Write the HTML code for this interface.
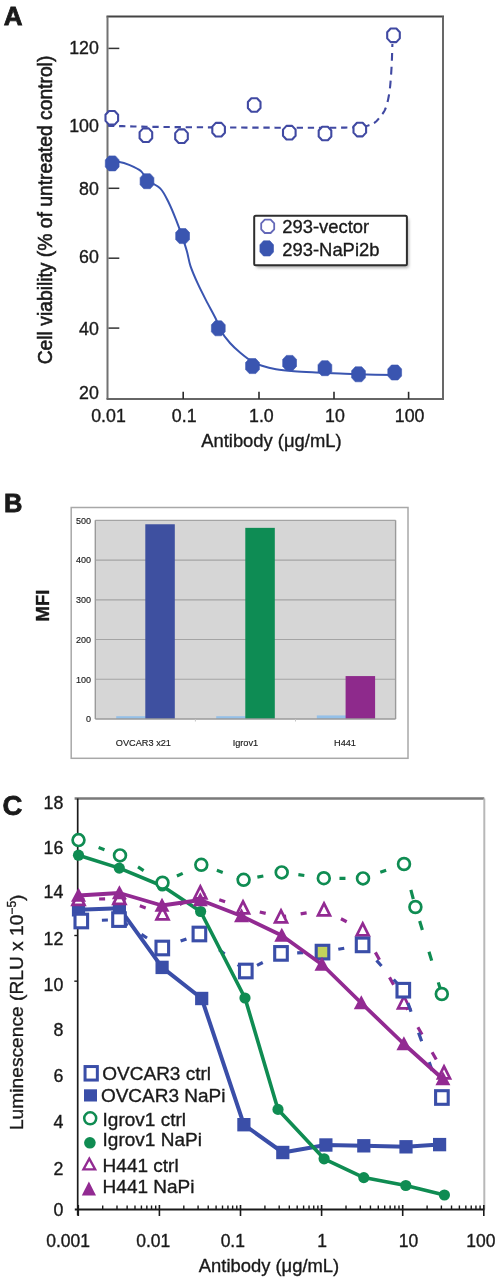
<!DOCTYPE html>
<html><head><meta charset="utf-8"><title>Figure</title>
<style>
html,body{margin:0;padding:0;background:#fff;width:498px;height:1280px;overflow:hidden}
svg{display:block;position:absolute;left:0;top:0}
text{font-family:"Liberation Sans", Arial, sans-serif;stroke:#1a1a1a;stroke-width:0.35px}
text.s{stroke-width:0.15px}
text.L{stroke-width:0.8px}
</style></head><body>
<svg width="498" height="1280" viewBox="0 0 498 1280">
<text class="L" x="3.7" y="25.2" font-size="26" font-weight="bold" fill="#1a1a1a">A</text>
<line x1="106.5" y1="16.5" x2="444" y2="16.5" stroke="#444" stroke-width="1.9"/>
<line x1="443" y1="16.5" x2="443" y2="399" stroke="#686868" stroke-width="2"/>
<line x1="107.5" y1="16.5" x2="107.5" y2="399" stroke="#727272" stroke-width="2"/>
<line x1="106.5" y1="399" x2="444" y2="399" stroke="#666" stroke-width="2"/>
<line x1="108.5" y1="48.4" x2="119.3" y2="48.4" stroke="#333" stroke-width="1.5"/>
<line x1="108.5" y1="188.3" x2="119.3" y2="188.3" stroke="#333" stroke-width="1.5"/>
<line x1="108.5" y1="258.2" x2="119.3" y2="258.2" stroke="#333" stroke-width="1.5"/>
<line x1="108.5" y1="328.1" x2="119.3" y2="328.1" stroke="#333" stroke-width="1.5"/>
<text x="98.8" y="54.1" font-size="17.8" text-anchor="end" fill="#1a1a1a">120</text>
<text x="98.8" y="131.5" font-size="17.8" text-anchor="end" fill="#1a1a1a">100</text>
<text x="98.8" y="194.7" font-size="17.8" text-anchor="end" fill="#1a1a1a">80</text>
<text x="98.8" y="262.7" font-size="17.8" text-anchor="end" fill="#1a1a1a">60</text>
<text x="98.8" y="334.8" font-size="17.8" text-anchor="end" fill="#1a1a1a">40</text>
<text x="98.8" y="398.5" font-size="17.8" text-anchor="end" fill="#1a1a1a">20</text>
<text x="108.5" y="421.8" font-size="17.8" text-anchor="middle" fill="#1a1a1a">0.01</text>
<line x1="183.2" y1="391.8" x2="183.2" y2="399" stroke="#2a2a2a" stroke-width="1.6"/>
<text x="184.2" y="421.8" font-size="17.8" text-anchor="middle" fill="#1a1a1a">0.1</text>
<line x1="259" y1="391.8" x2="259" y2="399" stroke="#2a2a2a" stroke-width="1.6"/>
<text x="261.4" y="421.8" font-size="17.8" text-anchor="middle" fill="#1a1a1a">1.0</text>
<line x1="334" y1="391.8" x2="334" y2="399" stroke="#2a2a2a" stroke-width="1.6"/>
<text x="335" y="421.8" font-size="17.8" text-anchor="middle" fill="#1a1a1a">10</text>
<line x1="408.6" y1="391.8" x2="408.6" y2="399" stroke="#2a2a2a" stroke-width="1.6"/>
<text x="409.6" y="421.8" font-size="17.8" text-anchor="middle" fill="#1a1a1a">100</text>
<text x="271.4" y="447.3" font-size="18.4" text-anchor="middle" fill="#1a1a1a">Antibody (μg/mL)</text>
<text transform="translate(52.4,210) rotate(-90)" x="0" y="0" font-size="19.3" text-anchor="middle" fill="#1a1a1a" style="stroke-width:0.55px">Cell viability (% of untreated control)</text>
<path d="M108,125.8 L110,125.85 L112.48,125.91 L114.3,125.96 M119.1,126.09 L122.12,126.17 L125.4,126.26 M130.2,126.38 L133.85,126.47 L136.49,126.53 M141.29,126.63 L142.05,126.65 L146.09,126.73 L147.59,126.76 M152.39,126.84 L153.89,126.86 L157.87,126.91 L158.69,126.92 M163.49,126.98 L166.07,127.01 L169.79,127.05 M174.59,127.09 L178.76,127.13 L180.89,127.15 M185.69,127.19 L187.31,127.2 L191.57,127.23 L191.99,127.24 M196.79,127.27 L200,127.3 L203.09,127.32 M207.89,127.36 L208.33,127.36 L212.5,127.39 L214.19,127.41 M218.99,127.44 L220.83,127.45 L225,127.48 L225.29,127.48 M230.09,127.5 L233.33,127.52 L236.39,127.54 M241.19,127.56 L241.67,127.56 L245.83,127.58 L247.49,127.59 M252.29,127.61 L254.18,127.62 L258.39,127.63 L258.59,127.63 M263.39,127.65 L266.85,127.66 L269.69,127.66 M274.49,127.67 L275.31,127.68 L279.52,127.68 L280.79,127.68 M285.59,127.69 L287.85,127.69 L291.89,127.7 M296.69,127.7 L300,127.7 L302.99,127.7 M307.79,127.7 L308.11,127.7 L312.26,127.71 L314.09,127.71 M318.89,127.71 L320.52,127.71 L324.56,127.71 L325.19,127.71 M329.99,127.7 L332.26,127.69 L335.84,127.68 L336.29,127.68 M341.09,127.64 L342.25,127.63 L345,127.6 L347.39,127.57 M352.19,127.49 L352.96,127.47 L354.37,127.44 L355.62,127.39 L356.76,127.34 L357.81,127.27 L358.48,127.21 M363.26,126.61 L364.23,126.44 L365.28,126.23 L366.28,126.01 L367.24,125.78 L368.16,125.52 L369.04,125.25 L369.44,125.12 M373.94,123.06 L374.35,122.8 L374.95,122.37 L375.52,121.92 L376.05,121.46 L376.56,120.97 L377.05,120.46 L377.54,119.93 L378.02,119.38 L378.5,118.81 L378.92,118.3 M382.35,114.1 L382.66,113.69 L383.17,112.95 L383.67,112.17 L384.16,111.35 L384.63,110.46 L385.08,109.52 L385.5,108.5 L385.84,107.59 M387.53,101.98 L387.69,101.34 L388.01,99.97 L388.31,98.55 L388.6,97.07 L388.88,95.54 L389.08,94.35 M389.9,88.44 L390.08,86.83 L390.28,84.86 L390.46,82.82 L390.64,80.75 L390.65,80.62 M391.09,74.65 L391.1,74.42 L391.24,72.31 L391.37,70.24 L391.5,68.2 L391.58,66.8 M391.86,60.81 L391.92,59.24 L392.01,56.9 L392.08,54.59 L392.13,52.94 M392.31,46.94 L392.32,46.63 L392.36,45.17 L392.4,44" fill="none" stroke="#4049a2" stroke-width="2.1"/>
<path d="M111.7,162.5 C113,162.42 116.6,161.6 119.5,162 C122.4,162.4 125.5,163.37 129.1,164.9 C132.7,166.43 138.08,168.63 141.1,171.2 C144.12,173.77 143.98,177.4 147.2,180.3 C150.42,183.2 156.78,184.82 160.4,188.6 C164.02,192.38 166.28,197.78 168.9,203 C171.52,208.22 173.9,214.35 176.1,219.9 C178.3,225.45 180.3,231.08 182.1,236.3 C183.9,241.52 185.5,246.23 186.9,251.2 C188.3,256.17 188.68,260.68 190.5,266.1 C192.32,271.52 195.18,277.95 197.8,283.7 C200.42,289.45 203.2,294.77 206.2,300.6 C209.2,306.43 213.33,313.63 215.8,318.7 C218.27,323.77 218.63,326.95 221,331 C223.37,335.05 226.83,339.42 230,343 C233.17,346.58 236.33,349.42 240,352.5 C243.67,355.58 248.33,359.28 252,361.5 C255.67,363.72 258,364.52 262,365.8 C266,367.08 270.67,368.3 276,369.2 C281.33,370.1 287.33,370.65 294,371.2 C300.67,371.75 308.33,372.1 316,372.5 C323.67,372.9 333,373.3 340,373.6 C347,373.9 348.83,374.07 358,374.3 C367.17,374.53 388.83,374.88 395,375" fill="none" stroke="#3a55b0" stroke-width="2"/>
<polygon points="114.63,111 118.1,114.74 118.1,120.86 114.63,124.6 108.97,124.6 105.5,120.86 105.5,114.74 108.97,111" fill="#fff" stroke="#4049a2" stroke-width="2.1" stroke-linejoin="round"/>
<polygon points="148.74,128.4 152.2,132.14 152.2,138.26 148.74,142 143.06,142 139.6,138.26 139.6,132.14 143.06,128.4" fill="#fff" stroke="#4049a2" stroke-width="2.1" stroke-linejoin="round"/>
<polygon points="184.34,129.4 187.8,133.14 187.8,139.26 184.34,143 178.66,143 175.2,139.26 175.2,133.14 178.66,129.4" fill="#fff" stroke="#4049a2" stroke-width="2.1" stroke-linejoin="round"/>
<polygon points="221.44,122.9 224.9,126.64 224.9,132.76 221.44,136.5 215.76,136.5 212.3,132.76 212.3,126.64 215.76,122.9" fill="#fff" stroke="#4049a2" stroke-width="2.1" stroke-linejoin="round"/>
<polygon points="257.03,98.2 260.5,101.94 260.5,108.06 257.03,111.8 251.36,111.8 247.9,108.06 247.9,101.94 251.36,98.2" fill="#fff" stroke="#4049a2" stroke-width="2.1" stroke-linejoin="round"/>
<polygon points="292.13,125.9 295.6,129.64 295.6,135.76 292.13,139.5 286.47,139.5 283,135.76 283,129.64 286.47,125.9" fill="#fff" stroke="#4049a2" stroke-width="2.1" stroke-linejoin="round"/>
<polygon points="327.83,126.7 331.3,130.44 331.3,136.56 327.83,140.3 322.17,140.3 318.7,136.56 318.7,130.44 322.17,126.7" fill="#fff" stroke="#4049a2" stroke-width="2.1" stroke-linejoin="round"/>
<polygon points="362.63,122.8 366.1,126.54 366.1,132.66 362.63,136.4 356.97,136.4 353.5,132.66 353.5,126.54 356.97,122.8" fill="#fff" stroke="#4049a2" stroke-width="2.1" stroke-linejoin="round"/>
<polygon points="396.33,28.5 399.8,32.24 399.8,38.36 396.33,42.1 390.67,42.1 387.2,38.36 387.2,32.24 390.67,28.5" fill="#fff" stroke="#4049a2" stroke-width="2.1" stroke-linejoin="round"/>
<polygon points="115.44,155.9 119.1,159.88 119.1,166.93 115.44,170.9 108.96,170.9 105.3,166.93 105.3,159.88 108.96,155.9" fill="#3a55b0" stroke="#3a55b0" stroke-width="0.6" stroke-linejoin="round"/>
<polygon points="150.24,173.7 153.9,177.67 153.9,184.72 150.24,188.7 143.76,188.7 140.1,184.72 140.1,177.67 143.76,173.7" fill="#3a55b0" stroke="#3a55b0" stroke-width="0.6" stroke-linejoin="round"/>
<polygon points="185.84,228.6 189.5,232.57 189.5,239.62 185.84,243.6 179.36,243.6 175.7,239.62 175.7,232.57 179.36,228.6" fill="#3a55b0" stroke="#3a55b0" stroke-width="0.6" stroke-linejoin="round"/>
<polygon points="221.54,320.8 225.2,324.78 225.2,331.82 221.54,335.8 215.06,335.8 211.4,331.82 211.4,324.78 215.06,320.8" fill="#3a55b0" stroke="#3a55b0" stroke-width="0.6" stroke-linejoin="round"/>
<polygon points="255.74,358.6 259.4,362.58 259.4,369.62 255.74,373.6 249.26,373.6 245.6,369.62 245.6,362.58 249.26,358.6" fill="#3a55b0" stroke="#3a55b0" stroke-width="0.6" stroke-linejoin="round"/>
<polygon points="292.84,355.4 296.5,359.38 296.5,366.42 292.84,370.4 286.36,370.4 282.7,366.42 282.7,359.38 286.36,355.4" fill="#3a55b0" stroke="#3a55b0" stroke-width="0.6" stroke-linejoin="round"/>
<polygon points="328.14,360.7 331.8,364.68 331.8,371.72 328.14,375.7 321.66,375.7 318,371.72 318,364.68 321.66,360.7" fill="#3a55b0" stroke="#3a55b0" stroke-width="0.6" stroke-linejoin="round"/>
<polygon points="361.74,366.8 365.4,370.78 365.4,377.82 361.74,381.8 355.26,381.8 351.6,377.82 351.6,370.78 355.26,366.8" fill="#3a55b0" stroke="#3a55b0" stroke-width="0.6" stroke-linejoin="round"/>
<polygon points="397.94,365 401.6,368.98 401.6,376.02 397.94,380 391.46,380 387.8,376.02 387.8,368.98 391.46,365" fill="#3a55b0" stroke="#3a55b0" stroke-width="0.6" stroke-linejoin="round"/>
<defs><filter id="sh" x="-10%" y="-20%" width="120%" height="150%"><feGaussianBlur stdDeviation="1.6"/></filter></defs>
<rect x="256.2" y="218.6" width="152.7" height="49.4" rx="2" fill="#9a9a9a" opacity="0.75" filter="url(#sh)"/>
<rect x="254.2" y="215.8" width="152.7" height="49.4" rx="1.5" fill="#fff" stroke="#2e2e2e" stroke-width="2"/>
<polygon points="270.62,219.6 274.2,223.29 274.2,229.31 270.62,233 264.77,233 261.2,229.31 261.2,223.29 264.77,219.6" fill="#fff" stroke="#6468b8" stroke-width="1.8" stroke-linejoin="round"/>
<polygon points="269.9,240.8 273.5,244.83 273.5,251.97 269.9,256 263.5,256 259.9,251.97 259.9,244.83 263.5,240.8" fill="#3a55b0" stroke="#3a55b0" stroke-width="0.6" stroke-linejoin="round"/>
<text x="282.3" y="233.2" font-size="18.4" fill="#1a1a1a">293-vector</text>
<text x="282.3" y="255.5" font-size="18.4" fill="#1a1a1a">293-NaPi2b</text>
<text class="L" x="3.9" y="511.6" font-size="25.5" font-weight="bold" fill="#1a1a1a">B</text>
<rect x="71.2" y="507.5" width="336.8" height="250.8" fill="#fff" stroke="#a8a8a8" stroke-width="1.5"/>
<rect x="95.3" y="520.3" width="300.3" height="198.7" fill="#d6d6d6"/>
<line x1="95.3" y1="520.3" x2="395.6" y2="520.3" stroke="#a4a4a4" stroke-width="1.2"/>
<text x="91" y="523.6" class="s" font-size="9" text-anchor="end" fill="#222">500</text>
<line x1="95.3" y1="560.04" x2="395.6" y2="560.04" stroke="#a4a4a4" stroke-width="1.2"/>
<text x="91" y="563.34" class="s" font-size="9" text-anchor="end" fill="#222">400</text>
<line x1="95.3" y1="599.78" x2="395.6" y2="599.78" stroke="#a4a4a4" stroke-width="1.2"/>
<text x="91" y="603.08" class="s" font-size="9" text-anchor="end" fill="#222">300</text>
<line x1="95.3" y1="639.52" x2="395.6" y2="639.52" stroke="#a4a4a4" stroke-width="1.2"/>
<text x="91" y="642.82" class="s" font-size="9" text-anchor="end" fill="#222">200</text>
<line x1="95.3" y1="679.26" x2="395.6" y2="679.26" stroke="#a4a4a4" stroke-width="1.2"/>
<text x="91" y="682.56" class="s" font-size="9" text-anchor="end" fill="#222">100</text>
<text x="91" y="722.3" class="s" font-size="9" text-anchor="end" fill="#222">0</text>
<line x1="395.6" y1="520.3" x2="395.6" y2="719" stroke="#9a9a9a" stroke-width="1.4"/>
<rect x="116.2" y="716.22" width="29.5" height="2.78" fill="#94c0e8"/>
<rect x="145.3" y="524.27" width="29.5" height="194.73" fill="#3e50a0"/>
<rect x="216.2" y="716.22" width="29.5" height="2.78" fill="#94c0e8"/>
<rect x="245.3" y="527.85" width="29.5" height="191.15" fill="#0e8c54"/>
<rect x="316.8" y="715.42" width="29.5" height="3.58" fill="#94c0e8"/>
<rect x="345.6" y="676.08" width="29.5" height="42.92" fill="#8e2a8c"/>
<line x1="95.3" y1="520.3" x2="95.3" y2="719" stroke="#9a9a9a" stroke-width="1.4"/>
<line x1="95.3" y1="719" x2="395.6" y2="719" stroke="#9a9a9a" stroke-width="1.4"/>
<line x1="195.4" y1="719" x2="195.4" y2="721.5" stroke="#c4c4c4" stroke-width="1"/>
<line x1="295.5" y1="719" x2="295.5" y2="721.5" stroke="#c4c4c4" stroke-width="1"/>
<text x="143.4" y="746.1" class="s" font-size="9.2" text-anchor="middle" fill="#222">OVCAR3 x21</text>
<text x="245.4" y="746.1" class="s" font-size="9.2" text-anchor="middle" fill="#222">Igrov1</text>
<text x="345" y="746.1" class="s" font-size="9.2" text-anchor="middle" fill="#222">H441</text>
<text transform="translate(48.9,605.5) rotate(-90)" font-size="18.5" font-weight="bold" text-anchor="middle" fill="#1a1a1a">MFI</text>
<text class="L" x="2.6" y="815" font-size="27.5" font-weight="bold" fill="#1a1a1a">C</text>
<line x1="74.6" y1="798.5" x2="484.3" y2="798.5" stroke="#7a7a7a" stroke-width="2.3"/>
<line x1="484.3" y1="798.5" x2="484.3" y2="1209.5" stroke="#b8b8b8" stroke-width="2"/>
<line x1="77.7" y1="798.5" x2="77.7" y2="1215.5" stroke="#1a1a1a" stroke-width="1.7"/>
<line x1="74.8" y1="1209.5" x2="484.3" y2="1209.5" stroke="#1a1a1a" stroke-width="2"/>
<text x="63.3" y="1216" font-size="17.8" text-anchor="end" fill="#1a1a1a">0</text>
<text x="63.3" y="1175.2" font-size="17.8" text-anchor="end" fill="#1a1a1a">2</text>
<text x="63.3" y="1128.2" font-size="17.8" text-anchor="end" fill="#1a1a1a">4</text>
<text x="63.3" y="1082.1" font-size="17.8" text-anchor="end" fill="#1a1a1a">6</text>
<text x="63.3" y="1036" font-size="17.8" text-anchor="end" fill="#1a1a1a">8</text>
<line x1="74.3" y1="981.17" x2="77.7" y2="981.17" stroke="#1a1a1a" stroke-width="1.4"/>
<text x="63.3" y="990.5" font-size="17.8" text-anchor="end" fill="#1a1a1a">10</text>
<line x1="74.3" y1="935.5" x2="77.7" y2="935.5" stroke="#1a1a1a" stroke-width="1.4"/>
<text x="63.3" y="944.5" font-size="17.8" text-anchor="end" fill="#1a1a1a">12</text>
<text x="63.3" y="898" font-size="17.8" text-anchor="end" fill="#1a1a1a">14</text>
<text x="63.3" y="854.3" font-size="17.8" text-anchor="end" fill="#1a1a1a">16</text>
<text x="63.3" y="809" font-size="17.8" text-anchor="end" fill="#1a1a1a">18</text>
<line x1="78.3" y1="1205" x2="78.3" y2="1216" stroke="#1a1a1a" stroke-width="1.6"/>
<line x1="102.71" y1="1205.5" x2="102.71" y2="1209.5" stroke="#1a1a1a" stroke-width="1.4"/>
<line x1="116.99" y1="1205.5" x2="116.99" y2="1209.5" stroke="#1a1a1a" stroke-width="1.4"/>
<line x1="127.13" y1="1205.5" x2="127.13" y2="1209.5" stroke="#1a1a1a" stroke-width="1.4"/>
<line x1="134.99" y1="1205.5" x2="134.99" y2="1209.5" stroke="#1a1a1a" stroke-width="1.4"/>
<line x1="141.41" y1="1205.5" x2="141.41" y2="1209.5" stroke="#1a1a1a" stroke-width="1.4"/>
<line x1="146.84" y1="1205.5" x2="146.84" y2="1209.5" stroke="#1a1a1a" stroke-width="1.4"/>
<line x1="151.54" y1="1205.5" x2="151.54" y2="1209.5" stroke="#1a1a1a" stroke-width="1.4"/>
<line x1="155.69" y1="1205.5" x2="155.69" y2="1209.5" stroke="#1a1a1a" stroke-width="1.4"/>
<line x1="159.4" y1="1205" x2="159.4" y2="1216" stroke="#1a1a1a" stroke-width="1.6"/>
<line x1="183.81" y1="1205.5" x2="183.81" y2="1209.5" stroke="#1a1a1a" stroke-width="1.4"/>
<line x1="198.09" y1="1205.5" x2="198.09" y2="1209.5" stroke="#1a1a1a" stroke-width="1.4"/>
<line x1="208.23" y1="1205.5" x2="208.23" y2="1209.5" stroke="#1a1a1a" stroke-width="1.4"/>
<line x1="216.09" y1="1205.5" x2="216.09" y2="1209.5" stroke="#1a1a1a" stroke-width="1.4"/>
<line x1="222.51" y1="1205.5" x2="222.51" y2="1209.5" stroke="#1a1a1a" stroke-width="1.4"/>
<line x1="227.94" y1="1205.5" x2="227.94" y2="1209.5" stroke="#1a1a1a" stroke-width="1.4"/>
<line x1="232.64" y1="1205.5" x2="232.64" y2="1209.5" stroke="#1a1a1a" stroke-width="1.4"/>
<line x1="236.79" y1="1205.5" x2="236.79" y2="1209.5" stroke="#1a1a1a" stroke-width="1.4"/>
<line x1="240.5" y1="1205" x2="240.5" y2="1216" stroke="#1a1a1a" stroke-width="1.6"/>
<line x1="264.91" y1="1205.5" x2="264.91" y2="1209.5" stroke="#1a1a1a" stroke-width="1.4"/>
<line x1="279.19" y1="1205.5" x2="279.19" y2="1209.5" stroke="#1a1a1a" stroke-width="1.4"/>
<line x1="289.33" y1="1205.5" x2="289.33" y2="1209.5" stroke="#1a1a1a" stroke-width="1.4"/>
<line x1="297.19" y1="1205.5" x2="297.19" y2="1209.5" stroke="#1a1a1a" stroke-width="1.4"/>
<line x1="303.61" y1="1205.5" x2="303.61" y2="1209.5" stroke="#1a1a1a" stroke-width="1.4"/>
<line x1="309.04" y1="1205.5" x2="309.04" y2="1209.5" stroke="#1a1a1a" stroke-width="1.4"/>
<line x1="313.74" y1="1205.5" x2="313.74" y2="1209.5" stroke="#1a1a1a" stroke-width="1.4"/>
<line x1="317.89" y1="1205.5" x2="317.89" y2="1209.5" stroke="#1a1a1a" stroke-width="1.4"/>
<line x1="321.6" y1="1205" x2="321.6" y2="1216" stroke="#1a1a1a" stroke-width="1.6"/>
<line x1="346.01" y1="1205.5" x2="346.01" y2="1209.5" stroke="#1a1a1a" stroke-width="1.4"/>
<line x1="360.29" y1="1205.5" x2="360.29" y2="1209.5" stroke="#1a1a1a" stroke-width="1.4"/>
<line x1="370.43" y1="1205.5" x2="370.43" y2="1209.5" stroke="#1a1a1a" stroke-width="1.4"/>
<line x1="378.29" y1="1205.5" x2="378.29" y2="1209.5" stroke="#1a1a1a" stroke-width="1.4"/>
<line x1="384.71" y1="1205.5" x2="384.71" y2="1209.5" stroke="#1a1a1a" stroke-width="1.4"/>
<line x1="390.14" y1="1205.5" x2="390.14" y2="1209.5" stroke="#1a1a1a" stroke-width="1.4"/>
<line x1="394.84" y1="1205.5" x2="394.84" y2="1209.5" stroke="#1a1a1a" stroke-width="1.4"/>
<line x1="398.99" y1="1205.5" x2="398.99" y2="1209.5" stroke="#1a1a1a" stroke-width="1.4"/>
<line x1="402.7" y1="1205" x2="402.7" y2="1216" stroke="#1a1a1a" stroke-width="1.6"/>
<line x1="427.11" y1="1205.5" x2="427.11" y2="1209.5" stroke="#1a1a1a" stroke-width="1.4"/>
<line x1="441.39" y1="1205.5" x2="441.39" y2="1209.5" stroke="#1a1a1a" stroke-width="1.4"/>
<line x1="451.53" y1="1205.5" x2="451.53" y2="1209.5" stroke="#1a1a1a" stroke-width="1.4"/>
<line x1="459.39" y1="1205.5" x2="459.39" y2="1209.5" stroke="#1a1a1a" stroke-width="1.4"/>
<line x1="465.81" y1="1205.5" x2="465.81" y2="1209.5" stroke="#1a1a1a" stroke-width="1.4"/>
<line x1="471.24" y1="1205.5" x2="471.24" y2="1209.5" stroke="#1a1a1a" stroke-width="1.4"/>
<line x1="475.94" y1="1205.5" x2="475.94" y2="1209.5" stroke="#1a1a1a" stroke-width="1.4"/>
<line x1="480.09" y1="1205.5" x2="480.09" y2="1209.5" stroke="#1a1a1a" stroke-width="1.4"/>
<line x1="483.8" y1="1205" x2="483.8" y2="1216" stroke="#1a1a1a" stroke-width="1.6"/>
<text x="68.1" y="1246.5" font-size="17.5" text-anchor="middle" fill="#1a1a1a">0.001</text>
<text x="153.2" y="1246.5" font-size="17.5" text-anchor="middle" fill="#1a1a1a">0.01</text>
<text x="232.8" y="1246.5" font-size="17.5" text-anchor="middle" fill="#1a1a1a">0.1</text>
<text x="322" y="1246.5" font-size="17.5" text-anchor="middle" fill="#1a1a1a">1</text>
<text x="408.5" y="1246.5" font-size="17.5" text-anchor="middle" fill="#1a1a1a">10</text>
<text x="480.9" y="1246.5" font-size="17.5" text-anchor="middle" fill="#1a1a1a">100</text>
<text x="269" y="1272.4" font-size="18.4" text-anchor="middle" fill="#1a1a1a">Antibody (μg/mL)</text>
<text transform="translate(23.1,1012.3) rotate(-90)" font-size="19.2" text-anchor="middle" fill="#1a1a1a">Luminescence (RLU x 10<tspan dy="-7" font-size="12">−5</tspan><tspan dy="7">)</tspan></text>
<polyline points="78.5,909.8 119.4,908.2 162.1,967.4 201.7,998.5 243.9,1124.7 282.8,1152.5 325.9,1145 363.8,1145.8 406,1146.8 439.6,1144.6" fill="none" stroke="#3a4ea8" stroke-width="4" stroke-linejoin="round"/>
<rect x="71.9" y="903.1" width="13.2" height="13.4" fill="#3a4ea8"/>
<rect x="112.8" y="901.5" width="13.2" height="13.4" fill="#3a4ea8"/>
<rect x="155.5" y="960.7" width="13.2" height="13.4" fill="#3a4ea8"/>
<rect x="195.1" y="991.8" width="13.2" height="13.4" fill="#3a4ea8"/>
<rect x="237.3" y="1118" width="13.2" height="13.4" fill="#3a4ea8"/>
<rect x="276.2" y="1145.8" width="13.2" height="13.4" fill="#3a4ea8"/>
<rect x="319.3" y="1138.3" width="13.2" height="13.4" fill="#3a4ea8"/>
<rect x="357.2" y="1139.1" width="13.2" height="13.4" fill="#3a4ea8"/>
<rect x="399.4" y="1140.1" width="13.2" height="13.4" fill="#3a4ea8"/>
<rect x="433" y="1137.9" width="13.2" height="13.4" fill="#3a4ea8"/>
<path d="M78.5,899.5 L84.5,899.35 M99.1,899 L105.1,898.85 M119.69,898.6 L125.55,900.71 M139.83,905.85 L145.69,907.96 M159.97,913.09 L162.5,914 L165.73,912.2 M179.59,904.51 L185.28,901.34 M199.13,893.65 L200.3,893 L204.97,894.64 M219.26,899.66 L225.13,901.72 M239.41,906.74 L243,908 L245.31,908.55 M259.77,911.97 L265.71,913.38 M280.16,916.8 L281,917 L286.13,916.16 M300.66,913.8 L306.63,912.83 M321.17,910.46 L324,910 L327.01,911.56 M340.96,918.76 L346.69,921.73 M360.64,928.93 L362.7,930 L365.34,934.66 M375.37,952.39 L379.49,959.67 M389.51,977.39 L393.63,984.68 M403.66,1002.4 L404,1003 L407.8,1009.65 M417.88,1027.29 L422.02,1034.54 M432.1,1052.18 L436.24,1059.43" fill="none" stroke="#922a92" stroke-width="3.2"/>
<polygon points="78.5,892.9 84.5,904.9 72.5,904.9" fill="#fff" stroke="#922a92" stroke-width="2.7" stroke-linejoin="miter"/>
<polygon points="119.4,891.9 125.4,903.9 113.4,903.9" fill="#fff" stroke="#922a92" stroke-width="2.7" stroke-linejoin="miter"/>
<polygon points="162.5,907.4 168.5,919.4 156.5,919.4" fill="#fff" stroke="#922a92" stroke-width="2.7" stroke-linejoin="miter"/>
<polygon points="200.3,886.4 206.3,898.4 194.3,898.4" fill="#fff" stroke="#922a92" stroke-width="2.7" stroke-linejoin="miter"/>
<polygon points="243,901.4 249,913.4 237,913.4" fill="#fff" stroke="#922a92" stroke-width="2.7" stroke-linejoin="miter"/>
<polygon points="281,910.4 287,922.4 275,922.4" fill="#fff" stroke="#922a92" stroke-width="2.7" stroke-linejoin="miter"/>
<polygon points="324,903.4 330,915.4 318,915.4" fill="#fff" stroke="#922a92" stroke-width="2.7" stroke-linejoin="miter"/>
<polygon points="362.7,923.4 368.7,935.4 356.7,935.4" fill="#fff" stroke="#922a92" stroke-width="2.7" stroke-linejoin="miter"/>
<polygon points="404,996.4 410,1008.4 398,1008.4" fill="#fff" stroke="#922a92" stroke-width="2.7" stroke-linejoin="miter"/>
<polygon points="444,1066.4 450,1078.4 438,1078.4" fill="#fff" stroke="#922a92" stroke-width="2.7" stroke-linejoin="miter"/>
<path d="M81.3,921 L87.3,920.78 M101.89,920.24 L107.89,920.01 M122.25,921.73 L127.83,925.39 M141.42,934.31 L147.01,937.97 M160.6,946.88 L162.3,948 L166.37,946.46 M180.61,941.09 L186.46,938.88 M200.61,934.96 L206.02,939.28 M219.19,949.78 L224.61,954.1 M237.78,964.61 L243.2,968.93 M257.02,965.39 L262.77,962.51 M276.76,955.52 L281,953.4 L282.57,953.35 M297.17,952.89 L303.17,952.71 M317.77,952.25 L322.5,952.1 L323.76,951.87 M338.28,949.27 L344.24,948.2 M358.76,945.59 L362.6,944.9 L364.38,946.88 M376.53,960.4 L381.52,965.96 M393.67,979.48 L398.66,985.04 M407.95,1003.12 L411.04,1011.71 M418.56,1032.61 L421.65,1041.2 M429.16,1062.1 L432.25,1070.69 M439.77,1091.59 L441.9,1097.5" fill="none" stroke="#3a4ea8" stroke-width="3.2"/>
<rect x="75" y="914.2" width="12.6" height="13.6" fill="#fff" stroke="#3a4ea8" stroke-width="3.1"/>
<rect x="112.7" y="912.8" width="12.6" height="13.6" fill="#fff" stroke="#3a4ea8" stroke-width="3.1"/>
<rect x="156" y="941.2" width="12.6" height="13.6" fill="#fff" stroke="#3a4ea8" stroke-width="3.1"/>
<rect x="193.1" y="927.2" width="12.6" height="13.6" fill="#fff" stroke="#3a4ea8" stroke-width="3.1"/>
<rect x="239.5" y="964.2" width="12.6" height="13.6" fill="#fff" stroke="#3a4ea8" stroke-width="3.1"/>
<rect x="274.7" y="946.6" width="12.6" height="13.6" fill="#fff" stroke="#3a4ea8" stroke-width="3.1"/>
<rect x="316.2" y="945.3" width="12.6" height="13.6" fill="#c2d25a" stroke="#3a4ea8" stroke-width="3.1"/>
<rect x="356.3" y="938.1" width="12.6" height="13.6" fill="#fff" stroke="#3a4ea8" stroke-width="3.1"/>
<rect x="397" y="983.4" width="12.6" height="13.6" fill="#fff" stroke="#3a4ea8" stroke-width="3.1"/>
<rect x="435.6" y="1090.7" width="12.6" height="13.6" fill="#fff" stroke="#3a4ea8" stroke-width="3.1"/>
<polyline points="78.5,855.2 119.3,868.1 162.3,886 200.6,911.5 245,998 278,1109.4 324.1,1158.8 363.8,1177.6 405.8,1185.5 444.4,1195" fill="none" stroke="#0f8c52" stroke-width="3.6" stroke-linejoin="round"/>
<circle cx="78.5" cy="855.2" r="5.6" fill="#0f8c52"/>
<circle cx="119.3" cy="868.1" r="5.6" fill="#0f8c52"/>
<circle cx="162.3" cy="886" r="5.6" fill="#0f8c52"/>
<circle cx="200.6" cy="911.5" r="5.6" fill="#0f8c52"/>
<circle cx="245" cy="998" r="5.6" fill="#0f8c52"/>
<circle cx="278" cy="1109.4" r="5.6" fill="#0f8c52"/>
<circle cx="324.1" cy="1158.8" r="5.6" fill="#0f8c52"/>
<circle cx="363.8" cy="1177.6" r="5.6" fill="#0f8c52"/>
<circle cx="405.8" cy="1185.5" r="5.6" fill="#0f8c52"/>
<circle cx="444.4" cy="1195" r="5.6" fill="#0f8c52"/>
<path d="M78.5,840.1 L84.36,842.26 M98.62,847.52 L104.47,849.68 M118.73,854.93 L120,855.4 L124.39,858.22 M138.01,866.97 L143.61,870.57 M157.24,879.32 L162.5,882.7 L162.85,882.54 M176.92,876.05 L182.71,873.38 M196.78,866.88 L201.3,864.8 L202.58,865.26 M216.86,870.32 L222.73,872.4 M237.02,877.47 L242.88,879.55 M257.38,877.12 L263.34,875.97 M277.84,873.15 L281.7,872.4 L283.8,872.69 M298.36,874.69 L304.34,875.52 M318.89,877.52 L323.8,878.2 L324.87,878.21 M339.47,878.28 L345.47,878.31 M360.07,878.39 L363,878.4 L366,877.35 M380.29,872.33 L386.16,870.27 M400.45,865.25 L404,864 L404.96,867.62 M410.87,889.92 L413.3,899.08 M419.65,921.02 L422.37,929.96 M428.97,951.71 L431.68,960.65 M438.28,982.39 L440.99,991.33" fill="none" stroke="#0f8c52" stroke-width="3.2"/>
<circle cx="78.5" cy="840.1" r="5.9" fill="#fff" stroke="#0f8c52" stroke-width="2.7"/>
<circle cx="120" cy="855.4" r="5.9" fill="#fff" stroke="#0f8c52" stroke-width="2.7"/>
<circle cx="162.5" cy="882.7" r="5.9" fill="#fff" stroke="#0f8c52" stroke-width="2.7"/>
<circle cx="201.3" cy="864.8" r="5.9" fill="#fff" stroke="#0f8c52" stroke-width="2.7"/>
<circle cx="243.6" cy="879.8" r="5.9" fill="#fff" stroke="#0f8c52" stroke-width="2.7"/>
<circle cx="281.7" cy="872.4" r="5.9" fill="#fff" stroke="#0f8c52" stroke-width="2.7"/>
<circle cx="323.8" cy="878.2" r="5.9" fill="#fff" stroke="#0f8c52" stroke-width="2.7"/>
<circle cx="363" cy="878.4" r="5.9" fill="#fff" stroke="#0f8c52" stroke-width="2.7"/>
<circle cx="404" cy="864" r="5.9" fill="#fff" stroke="#0f8c52" stroke-width="2.7"/>
<circle cx="415.4" cy="907" r="5.9" fill="#fff" stroke="#0f8c52" stroke-width="2.7"/>
<circle cx="441.8" cy="994" r="5.9" fill="#fff" stroke="#0f8c52" stroke-width="2.7"/>
<polyline points="78.5,895.5 119.4,893 162,905.5 200.3,900 241.5,916 281.8,935.5 322,964.5 361.3,1003 403.9,1044 442.9,1079" fill="none" stroke="#922a92" stroke-width="3.8" stroke-linejoin="round"/>
<polygon points="78.5,887.8 86,901.8 71,901.8" fill="#922a92"/>
<polygon points="119.4,885.3 126.9,899.3 111.9,899.3" fill="#922a92"/>
<polygon points="162,897.8 169.5,911.8 154.5,911.8" fill="#922a92"/>
<polygon points="200.3,892.3 207.8,906.3 192.8,906.3" fill="#922a92"/>
<polygon points="241.5,908.3 249,922.3 234,922.3" fill="#922a92"/>
<polygon points="281.8,927.8 289.3,941.8 274.3,941.8" fill="#922a92"/>
<polygon points="322,956.8 329.5,970.8 314.5,970.8" fill="#922a92"/>
<polygon points="361.3,995.3 368.8,1009.3 353.8,1009.3" fill="#922a92"/>
<polygon points="403.9,1036.3 411.4,1050.3 396.4,1050.3" fill="#922a92"/>
<polygon points="442.9,1071.3 450.4,1085.3 435.4,1085.3" fill="#922a92"/>
<rect x="85.05" y="1066.55" width="12.3" height="13.5" fill="#fff" stroke="#3a4ea8" stroke-width="3"/>
<rect x="84" y="1089.3" width="13" height="12.2" fill="#3a4ea8"/>
<circle cx="90.2" cy="1118.3" r="6" fill="#fff" stroke="#0f8c52" stroke-width="2.5"/>
<circle cx="89.9" cy="1142.8" r="5.8" fill="#0f8c52"/>
<polygon points="89.3,1158.6 95.2,1169.4 83.4,1169.4" fill="#fff" stroke="#922a92" stroke-width="2.3"/>
<polygon points="88.9,1181.4 96,1195.6 81.8,1195.6" fill="#922a92"/>
<text x="102.3" y="1079.9" font-size="19" fill="#1a1a1a">OVCAR3 ctrl</text>
<text x="100.9" y="1102.4" font-size="19" fill="#1a1a1a">OVCAR3 NaPi</text>
<text x="102.6" y="1125.9" font-size="19" fill="#1a1a1a">Igrov1 ctrl</text>
<text x="102.6" y="1146.1" font-size="19" fill="#1a1a1a">Igrov1 NaPi</text>
<text x="102.6" y="1171.8" font-size="19" fill="#1a1a1a">H441 ctrl</text>
<text x="102.6" y="1193.3" font-size="19" fill="#1a1a1a">H441 NaPi</text>
</svg>
</body></html>
